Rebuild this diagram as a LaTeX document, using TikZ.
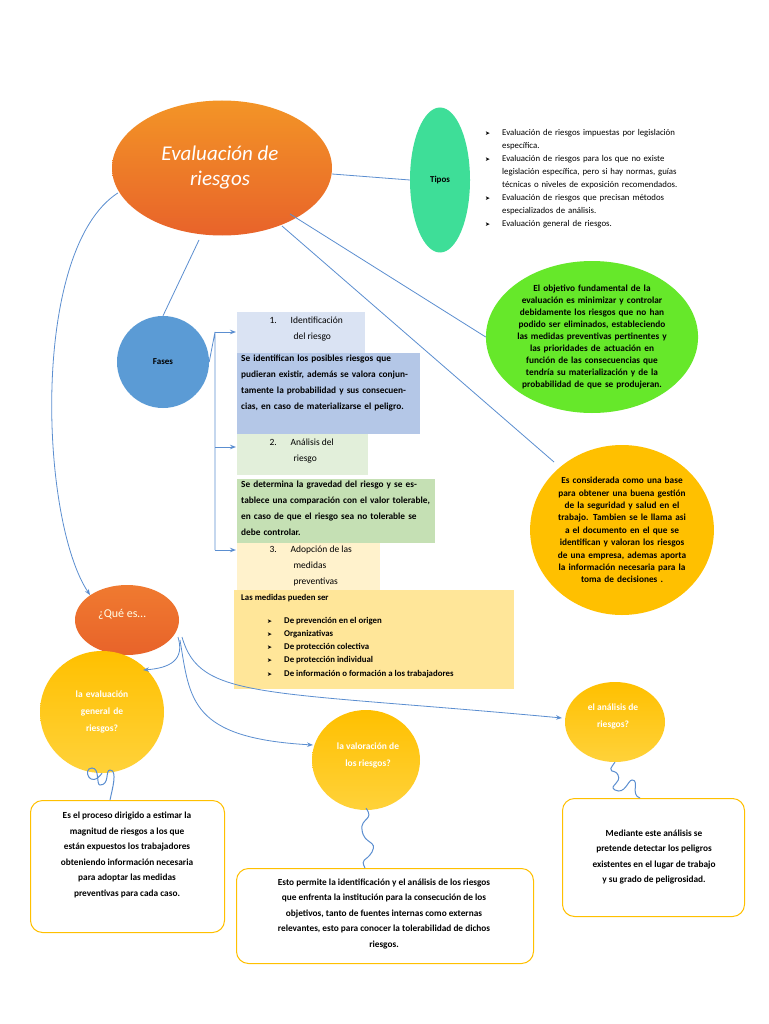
\documentclass[tikz,border=0pt]{standalone}
\usepackage{fontspec}
\setmainfont{Carlito}
\newfontfamily\djv{DejaVu Sans}
\newcommand{\arw}{{\djv\fontsize{6}{8}\selectfont ➤}}
\usetikzlibrary{shapes.geometric,arrows.meta}
\definecolor{org}{HTML}{F07A30}
\definecolor{orgd}{HTML}{E8632A}
\definecolor{mint}{HTML}{3EDE98}
\definecolor{lime}{HTML}{66E82A}
\definecolor{gold}{HTML}{FFC000}
\definecolor{goldl}{HTML}{FFD23A}
\definecolor{ln}{HTML}{5B8ED0}
\definecolor{fblue}{HTML}{5B9BD5}
\tikzset{
  x=1pt,y=-1pt,
  el/.style={ellipse,draw=none,inner sep=0pt,align=center},
  ln/.style={draw=ln,line width=0.8pt},
  ar/.style={draw=ln,line width=0.8pt,-{Stealth[open,length=6pt]}},
  box/.style={anchor=north west,inner sep=3pt,align=left,font=\fontsize{9.3}{16}\selectfont\bfseries},
  rbox/.style={draw=gold,line width=1pt,rounded corners=12pt,fill=white},
  wt/.style={text=white,font=\fontsize{9.5}{17}\selectfont\bfseries},
  sq/.style={draw=ln,line width=1pt}
}
\begin{document}
\begin{tikzpicture}
\useasboundingbox (0,0) rectangle (768,1024);
\fill[white] (0,0) rectangle (768,1024);
\node[el,fill=mint,minimum width=60,minimum height=145] (tipos) at (440,180) {\fontsize{9}{10}\selectfont\bfseries Tipos};
\node[el,fill=lime,minimum width=194,minimum height=152,text width=150,font=\fontsize{9.3}{12}\selectfont\bfseries] (green) at (592,337) {\centering\hyphenpenalty=10000 El objetivo fundamental de la evaluación es minimizar y controlar debidamente los riesgos que no han podido ser eliminados, estableciendo las medidas preventivas pertinentes y las prioridades de actuación en función de las consecuencias que tendría su materialización y de la probabilidad de que se produjeran.\par};
\node[el,fill=gold,minimum width=182,minimum height=170,text width=130,font=\fontsize{9.3}{12.4}\selectfont\bfseries] (yel) at (622,530) {\centering\hyphenpenalty=10000 Es considerada como una base para obtener una buena gestión de la seguridad y salud en el trabajo. Tambien se le llama asi a el documento en el que se identifican y valoran los riesgos\ de una empresa, ademas aporta la información necesaria para la toma de decisiones .\par};
\node[el,fill=fblue,minimum width=92,minimum height=92] (fases) at (163,362) {\fontsize{9}{10}\selectfont\bfseries Fases};
\node[el,top color=org!80!yellow,bottom color=orgd,minimum width=220,minimum height=135] (main) at (222,168) {};
\node[text=white,font=\fontsize{21}{25}\selectfont\itshape,align=center] at (220,168) {Evaluación de\\riesgos};
\draw[ln] (main.east) ++(0,6) -- (tipos.west);
\draw[ln] (290,214) -- (green.west);
\draw[ln] (282,226) -- (554,462);
\draw[ln] (199,240) -- (fases.north);
% tipos list
\node[anchor=north west,text width=222,inner sep=0pt,font=\fontsize{8.8}{13}\selectfont] (tl) at (478,122) {%
\begin{list}{\arw}{\leftmargin=24pt\labelsep=12pt\itemsep=0pt\parsep=0pt\topsep=0pt}\hyphenpenalty=10000
\item Evaluación de riesgos impuestas por legislación específica.
\item Evaluación de riesgos para los que no existe legislación específica, pero si hay normas, guías técnicas o niveles de exposición recomendados.
\item Evaluación de riesgos que precisan métodos especializados de análisis.
\item Evaluación general de riesgos.
\end{list}};
% fases boxes
\fill[fill={rgb,255:red,218;green,227;blue,243}] (237,312) rectangle (365,353);
\node[anchor=north west,font=\fontsize{9.5}{16}\selectfont,align=left] (b1) at (266,313) {1.\hspace{14pt}Identificación\\\hspace{24pt}del riesgo};
\fill[fill={rgb,255:red,180;green,199;blue,231}] (237,353) rectangle (420,434);
\node[box,text width=175] (b2) at (238,352) {\hyphenpenalty=10000 Se identifican los posibles riesgos que pudieran existir, además se valora conjuntamente la probabilidad y sus consecuencias, en caso de materializarse el peligro.};
\fill[fill={rgb,255:red,226;green,239;blue,218}] (237,434) rectangle (368,475);
\node[anchor=north west,font=\fontsize{9.5}{16}\selectfont,align=left] (b3) at (266,435) {2.\hspace{14pt}Análisis del\\\hspace{24pt}riesgo};
\fill[fill={rgb,255:red,197;green,224;blue,180}] (237,479) rectangle (435,543);
\node[box,text width=190] (b4) at (238,478) {\hyphenpenalty=10000 Se determina la gravedad del riesgo y se establece una comparación con el valor tolerable, en caso de que el riesgo sea no tolerable se debe controlar.};
\fill[fill={rgb,255:red,255;green,242;blue,204}] (237,543) rectangle (380,592);
\node[anchor=north west,font=\fontsize{9.5}{16}\selectfont,align=left] (b5) at (266,542) {3.\hspace{14pt}Adopción de las\\\hspace{24pt}medidas\\\hspace{24pt}preventivas};
\fill[fill={rgb,255:red,255;green,230;blue,153}] (234,590) rectangle (514,689);
\node[box,font=\fontsize{8.8}{13}\selectfont\bfseries] (b6) at (238,591) {Las medidas pueden ser};
\node[anchor=north west,inner sep=0pt,align=left,font=\fontsize{8.8}{13.2}\selectfont\bfseries] (b6l) at (267,617) {\arw\hspace{12pt}De prevención en el origen\\\arw\hspace{12pt}Organizativas\\\arw\hspace{12pt}De protección colectiva\\\arw\hspace{12pt}De protección individual\\\arw\hspace{12pt}De información o formación a los trabajadores};
% bracket
\coordinate (br) at (215,332);
\coordinate (bb) at (215,550);
\draw[ln] (fases.east) -- (br) -- (bb);
\draw[ar] (br) -- (236,332);
\draw[ar] (215,447) -- (236,447);
\draw[ar] (bb) -- (236,550);
% que es
\node[el,top color=org,bottom color=orgd,minimum width=104,minimum height=70] (que) at (127,620) {};
\node[text=white!90!yellow,font=\fontsize{12}{12}\selectfont] at (122,614) {¿Qué es…};
\draw[ar] (main.west) ++(6,25) .. controls (30,250) and (40,520) .. (que.north west);
% three circles
\node[el,top color=gold,bottom color=goldl,minimum width=124,minimum height=122,wt,text width=80] (ca) at (102,712) {la evaluación\\general de\\riesgos?};
\node[el,top color=gold,bottom color=goldl,minimum width=108,minimum height=100] (cb) at (366,760) {};
\node[wt,align=center] at (368,755) {la valoración de\\los riesgos?};
\node[el,top color=gold,bottom color=goldl,minimum width=100,minimum height=80] (cc) at (615,722) {};
\node[wt,align=center] at (613,716) {el análisis de\\riesgos?};
\draw[ar] (178,637) .. controls (185,660) and (170,668) .. (143,670);
\draw[ar] (180,640) .. controls (190,700) and (190,738) .. (313,745);
\draw[ar] (182,637) .. controls (200,700) and (260,690) .. (562,718);
% boxes
\node[rbox,minimum width=194,minimum height=132,anchor=north west] (d) at (30,800) {};
\node[font=\fontsize{9.3}{15.5}\selectfont\bfseries,align=center] at (127,855) {Es el proceso dirigido a estimar la\\magnitud de riesgos a los que\\están expuestos los trabajadores\\obteniendo información necesaria\\para adoptar las medidas\\preventivas para cada caso.};
\node[rbox,minimum width=297,minimum height=95,anchor=north west] (e) at (236,868) {};
\node[font=\fontsize{9.3}{15.5}\selectfont\bfseries,align=center] at (384,914) {Esto permite la identificación y el análisis de los riesgos\\que enfrenta la institución para la consecución de los\\objetivos, tanto de fuentes internas como externas\\relevantes, esto para conocer la tolerabilidad de dichos\\riesgos.};
\node[rbox,minimum width=182,minimum height=118,anchor=north west] (f) at (562,798) {};
\node[font=\fontsize{9.3}{15.5}\selectfont\bfseries,align=center] at (654,857) {Mediante este análisis se\\pretende detectar los peligros\\existentes en el lugar de trabajo\\y su grado de peligrosidad.};
% squiggles
\draw[sq] (ca.south) .. controls (90,790) and (82,768) .. (92,768) .. controls (100,768) and (96,785) .. (100,785)
  .. controls (110,785) and (105,770) .. (110,770) .. controls (118,770) and (112,790) .. (110,800);
\draw[sq] (cb.south) ++(0,-2) .. controls (375,820) and (360,818) .. (362,830) .. controls (364,845) and (378,840) .. (372,852) .. controls (366,862) and (360,858) .. (365,868);
\draw[sq] (cc.south) .. controls (605,775) and (615,768) .. (618,775) .. controls (622,783) and (608,786) .. (615,790) .. controls (625,795) and (628,780) .. (632,780) .. controls (640,780) and (630,795) .. (640,798);
\end{tikzpicture}
\end{document}
